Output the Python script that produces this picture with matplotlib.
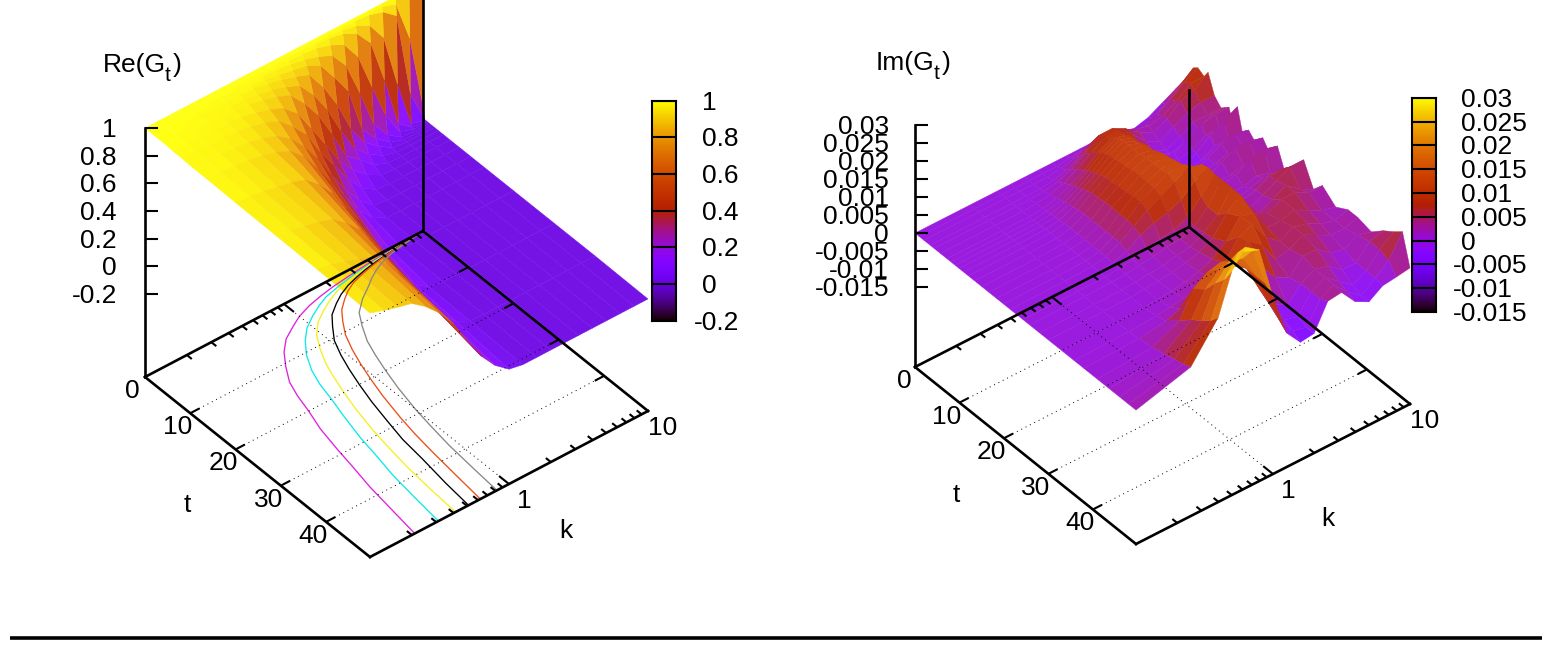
import numpy as np
import matplotlib
matplotlib.use("Agg")
import matplotlib.pyplot as plt
from matplotlib.colors import ListedColormap
from matplotlib.lines import Line2D
from mpl_toolkits.mplot3d import proj3d

plt.rcParams['font.family'] = ['Liberation Sans', 'DejaVu Sans']

W, H = 1564, 650
FONT = 19

# log10(k) grid and t grid of the real part
re_logk = [-1.0, -0.9, -0.8, -0.7, -0.6, -0.5, -0.4, -0.3, -0.2, -0.1, 0.0,
           0.1, 0.2, 0.3, 0.4, 0.5, 0.6, 0.7, 0.8, 0.9, 1.0]
re_t = [0, 0.15, 0.3, 0.5, 0.7, 1, 1.4, 1.9, 2.5, 3.4, 4.5, 6, 8, 10.5, 13.5, 20, 29, 38, 49.7]
re_gt = [
    [1, 1, 1, 1, 1, 1, 1, 1, 1, 1, 1, 1, 1, 1, 1, 1, 1, 1, 1, 1, 1],
    [1, 1, 1, 1, 1, 1, 1, 1, 1, 1, 1, 1, 1, 1, 1, 1, .995, .985, .95, .65, .08],
    [1, 1, 1, 1, 1, 1, 1, 1, 1, 1, 1, 1, 1, 1, .995, .99, .98, .95, .87, .25, .02],
    [1, 1, 1, 1, 1, 1, 1, 1, 1, 1, 1, 1, .995, .99, .98, .96, .91, .77, .38, .04, .015],
    [1, 1, 1, 1, 1, 1, 1, 1, 1, 1, 1, .995, .99, .98, .96, .91, .79, .47, .1, .02, .015],
    [1, 1, 1, 1, 1, 1, 1, 1, .995, .99, .985, .98, .97, .94, .89, .75, .48, .22, .05, .015, .015],
    [1, 1, 1, 1, 1, .995, .99, .99, .985, .98, .97, .95, .92, .875, .75, .5, .22, .09, .02, .015, .015],
    [1, 1, 1, 1, .995, .99, .985, .98, .975, .96, .94, .92, .87, .73, .58, .25, .13, .05, .015, .015, .015],
    [1, 1, 1, .995, .99, .99, .985, .975, .96, .94, .91, .87, .73, .55, .32, .17, .09, .025, .015, .015, .015],
    [1, .995, .995, .99, .985, .98, .975, .96, .94, .91, .87, .75, .59, .38, .2, .11, .045, .015, .015, .015, .015],
    [1, .995, .995, .99, .985, .98, .97, .95, .92, .88, .77, .63, .44, .23, .15, .06, .02, .015, .015, .015, .015],
    [.995, .995, .99, .985, .98, .97, .95, .92, .88, .79, .63, .46, .29, .17, .08, .025, .015, .015, .015, .015, .015],
    [.995, .99, .985, .98, .97, .955, .93, .89, .80, .69, .51, .36, .21, .09, .025, .015, .015, .015, .015, .015, .015],
    [.99, .985, .98, .97, .96, .935, .90, .83, .72, .58, .41, .25, .12, .03, .015, .015, .015, .015, .015, .015, .015],
    [.99, .985, .975, .96, .945, .915, .87, .78, .64, .49, .33, .18, .07, .02, .015, .015, .015, .015, .015, .015, .015],
    [.985, .975, .96, .94, .92, .885, .80, .68, .52, .37, .20, .08, .02, .015, .015, .015, .015, .015, .015, .015, .015],
    [.98, .965, .945, .92, .89, .81, .71, .55, .40, .23, .10, .03, .015, .015, .015, .015, .015, .015, .015, .015, .015],
    [.975, .955, .925, .89, .85, .75, .62, .48, .32, .17, .07, .02, .015, .015, .015, .015, .015, .015, .015, .015, .015],
    [.964, .93, .9, .875, .80, .70, .57, .39, .23, .11, .03, .01, .01, .01, .01, .01, .01, .01, .01, .01, .01],
]

# contours of Re(G_t) on the base plane, log10(k) against t
cont_t = [.05, .3, .7, 1, 1.4, 1.9, 2.5, 3.4, 4.5, 6, 8, 10.5, 13.5, 16.5, 20, 24, 29, 33, 38, 44, 49.7]
cont_magenta = [.96, .80, .56, .44, .31, .20, .10, 0, -.08, -.18, -.26, -.33, -.40, -.44, -.474, -.52, -.558, -.584, -.62, -.65, -.678]
cont_cyan = [.97, .84, .64, .53, .42, .32, .22, .14, .06, -.03, -.108, -.18, -.24, -.28, -.31, -.35, -.394, -.42, -.456, -.484, -.508]
cont_yellow = [.98, .86, .68, .58, .48, .39, .30, .22, .14, .05, -.026, -.084, -.14, -.18, -.22, -.26, -.30, -.324, -.35, -.37, -.384]
cont_black = [.98, .88, .72, .63, .54, .46, .38, .30, .23, .15, .089, .02, -.03, -.07, -.11, -.15, -.19, -.22, -.24, -.27, -.291]
cont_orange = [.98, .90, .74, .66, .58, .50, .42, .35, .29, .22, .162, .10, .05, .01, -.03, -.07, -.11, -.136, -.16, -.184, -.206]
cont_gray = [.99, .92, .80, .74, .68, .63, .58, .52, .46, .37, .28, .22, .16, .12, .08, .04, 0, -.024, -.05, -.07, -.087]
cont_lines = [cont_magenta, cont_cyan, cont_yellow, cont_black, cont_orange, cont_gray]
cont_colors = ['#e020e0', '#10e8e8', '#f4f020', '#000000', '#e8501a', '#888888']

# log10(k) grid and t grid of the imaginary part, values in units of 0.001
im_logk = [-1.0, -0.6, -0.4, -0.3, -0.2, -0.1, 0.0, 0.1, 0.2, 0.3, 0.4, 0.5, 0.6, 0.7, 0.8, 0.9, 1.0]
im_t = [0, 1, 2, 3.4, 4.3, 5.7, 7.2, 8.1, 9, 9.9, 10.9, 12, 13.4, 15, 16.6, 18.3, 19.9, 21.4,
        22.9, 24.3, 25.8, 28, 30, 33, 35.8, 38, 41, 43.7, 46, 48, 49.7]
im_gt = [
    [0, 0, 0, 0, 0, 0, 0, 0, 0, 0, 0, -1, -2, -1, 1, 3, 5],
    [0, 0, 0, 0, 0, 0, 0, .5, 1, 1, 1, 0, -1, 0, 2, 5, 8],
    [0, 0, 0, 0, 0, 0, .5, 1.5, 3, 3, 3, 1, 1, 2, 4, 7, 9],
    [0, 0, 0, 0, 0, .5, 1.5, 3.5, 6, 6, 5, 3, 2, 3, 5, 8, 8],
    [0, 0, 0, 0, .3, 1, 2.5, 5, 8, 8, 6, 3, 1, 3, 6, 7, 10],
    [0, 0, 0, .2, .8, 2, 4, 6.5, 9, 9, 6, 2, 0, 2, 4, 5, 5],
    [0, 0, 0, .4, 1.2, 3, 5, 8, 10, 9, 5, 1, -1, 1, 3, 3, 3],
    [0, 0, 0, .5, 1.5, 3.5, 6, 9, 11, 10, 5, 1, -1, 0, 2, 4, 4],
    [0, 0, .1, .6, 2, 4, 6.5, 9.5, 11.5, 10, 5, 1, 0, 2, 4, 5, 5],
    [0, 0, .1, .7, 2.2, 4.5, 7, 10, 12, 10, 5, 1, -1, 0, 2, 2, 1],
    [0, 0, .2, .8, 2.5, 5, 7.5, 10, 12, 10.5, 5, 0, -2, 0, 3, 5, 7],
    [0, 0, .2, .9, 2.8, 5.5, 8, 10.5, 12, 11, 5, 0, -2, -1, 1, 1, 1],
    [0, 0, .2, 1, 3, 5.5, 8, 10.5, 12, 11, 6, 1, -1, 1, 3, 4, 3],
    [0, 0, .3, 1, 3, 6, 8.5, 11, 12.5, 12, 7, 2, 0, 1, 2, 2, 1],
    [0, .1, .3, 1, 3, 6, 8.5, 11, 12.5, 12.5, 8, 3, 1, 3, 5, 5, 4],
    [0, .1, .3, 1, 3, 6, 9, 11, 12.5, 13, 9, 4, 1, 1, 2, 1, 1],
    [0, .1, .3, 1, 3, 6, 9, 11, 13, 13.5, 11, 5, 2, 3, 5, 6, 5],
    [0, .1, .3, 1, 3, 5.5, 8, 10, 12, 14, 13, 6, 1, 1, 2, 1, 0],
    [0, .1, .2, .8, 2, 4.5, 6, 7, 8.5, 12, 13.5, 7, 1, 2, 3, 3, 2],
    [0, .1, .2, .6, 1.2, 2.2, 3, 3.5, 5, 9, 13, 8, 2, 3, 5, 5, 4],
    [0, .1, .2, .5, 1, 1.5, 2.2, 2.5, 4, 7.5, 13, 8, 1, 3, 5, 7, 7],
    [0, .1, .2, .5, .8, 1.2, 2, 2.5, 4.5, 7.5, 13, 7, 2, 4, 6, 3, 1],
    [0, .1, .2, .5, .8, 1.2, 2, 3, 5, 10, 13, 6, 4, 6, 6, 4, 4],
    [0, .1, .3, .6, 1, 1.5, 2.5, 4, 7, 12, 11, 5, 5, 6, 4, 2, 1],
    [0, .3, .8, 1.2, 1.8, 2.5, 3.5, 6, 11, 12.5, 7, 4, 6, 5, 3, 2, 3],
    [0, .5, 1.5, 3, 5, 6, 6, 8, 12, 9, 3, 4, 6, 4, 2, 2, 3],
    [0, 1, 4.5, 11.5, 14, 15, 12, 10, 8, 3, 1, 5, 5, 2, 1, 3, 2],
    [0, 1.9, 7.5, 14, 17.5, 18, 14, 6, 0, -2, 2, 4, 3, 0, 0, 4, 5],
    [0, 2.7, 9.5, 18, 22, 21, 14, 4, -2, -3, 2, 4, 1, -2, 0, 4, 7],
    [0, 3.3, 11.5, 21, 26.5, 25, 14, 2, -3, -4, 2, 4, 0, -3, 0, 3, 9],
    [0, 4.2, 14, 25, 29.7, 27, 12, 0, -4.5, -4, 3, 3.5, -1, -3, -.5, 0, .6],
]

# axis ticks
t_ticks = [10, 20, 30, 40]
k_major = [1]
k_minor = [.2, .3, .4, .5, .6, .7, .8, .9, 2, 3, 4, 5, 6, 7, 8, 9]
re_zticks = [-0.2, 0, 0.2, 0.4, 0.6, 0.8, 1]
re_zlabels = ['-0.2', '0', '0.2', '0.4', '0.6', '0.8', '1']
im_zticks = [-0.015, -0.01, -0.005, 0, 0.005, 0.01, 0.015, 0.02, 0.025, 0.03]
im_zlabels = ['-0.015', '-0.01', '-0.005', '0', '0.005', '0.01', '0.015', '0.02', '0.025', '0.03']

TMAX = 49.7

# gnuplot's default pm3d palette (rgbformulae 7,5,15)
x = np.linspace(0, 1, 256)
pal = np.column_stack([np.sqrt(x), x**3, np.clip(np.sin(2 * np.pi * x), 0, 1)])
palette = ListedColormap(pal)

fig = plt.figure(figsize=(W / 100, H / 100), dpi=100)


def put_text(px, py, s, ha='left', size=FONT):
    # px, py are image pixels, py is the baseline
    fig.text(px / W, 1 - py / H, s, ha=ha, va='baseline', fontsize=size, color='black')


def put_line(xs, ys, lw=1.9):
    fig.add_artist(Line2D([a / W for a in xs], [1 - b / H for b in ys], color='black',
                          lw=lw, solid_capstyle='butt', zorder=5))


def make_axes(corner, kvec, tvec, zscale, zlim):
    # oblique view: kvec/tvec are the screen vectors of the full k and t axes
    rk = -kvec[1] / kvec[0]
    rt = tvec[1] / tvec[0]
    sin_el = np.sqrt(rk * rt)
    el = np.arcsin(sin_el)
    az = np.arctan(rt / sin_el)
    ax = fig.add_subplot(projection='3d', proj_type='ortho')
    ax.set_axis_off()
    ax.computed_zorder = False
    ax.patch.set_alpha(0)
    ax.set_xlim(-1, 1)
    ax.set_ylim(TMAX, 0)
    ax.set_zlim(*zlim)
    ax.view_init(elev=np.degrees(el), azim=-180 + np.degrees(az))
    ax.set_box_aspect((kvec[0] / np.sin(az), tvec[0] / np.cos(az),
                       zscale * (zlim[1] - zlim[0]) / np.cos(el)))
    # place the axes so that the base corner and axis length land where wanted
    M = ax.get_proj()
    x0, y0, _ = proj3d.proj_transform(-1, 0, zlim[0], M)
    x1, y1, _ = proj3d.proj_transform(1, 0, zlim[0], M)
    s = kvec[0] / (x1 - x0)
    vl = ax.viewLim
    side = vl.width * s
    left = corner[0] - (x0 - vl.x0) * s
    bottom = (H - corner[1]) - (y0 - vl.y0) * s
    ax.set_position([left / W, bottom / H, side / W, side / H])
    ax.apply_aspect()
    return ax


def to_px(ax, logk, t, z):
    tx, ty, _ = proj3d.proj_transform(logk, t, z, ax.get_proj())
    px, py = ax.transData.transform((tx, ty))
    return px, H - py


def draw_surface(ax, logk, t, z, vmin, vmax):
    X, Y = np.meshgrid(logk, t)
    Z = np.array(z, dtype=float)
    mid = (Z[:-1, :-1] + Z[1:, :-1] + Z[:-1, 1:] + Z[1:, 1:]) / 4
    rgba = palette((mid - vmin) / (vmax - vmin))
    rgba[..., :3] = rgba[..., :3] * 0.93 + 0.07
    ax.plot_surface(X, Y, Z, facecolors=rgba, rstride=1, cstride=1, shade=False,
                    linewidth=0.3, antialiased=True, zorder=1)


def draw_frame(ax, zbase, ztop, zback, zticks, zlabels, zero_dx, zlab_dx):
    line = dict(color='black', lw=1.9, zorder=4, solid_capstyle='projecting')
    # base rectangle
    ax.plot([-1, 1], [0, 0], [zbase, zbase], **line)
    ax.plot([-1, 1], [TMAX, TMAX], [zbase, zbase], **line)
    ax.plot([-1, -1], [0, TMAX], [zbase, zbase], **line)
    ax.plot([1, 1], [0, TMAX], [zbase, zbase], **line)
    # vertical axes
    ax.plot([-1, -1], [0, 0], [zbase, ztop], **line)
    ax.plot([1, 1], [0, 0], [zbase, zback], **line)

    grid = dict(color='black', lw=0.7, ls=(0, (1, 4)), zorder=3)
    tick = dict(color='black', lw=1.5, zorder=4, solid_capstyle='butt')
    for tv in t_ticks:
        ax.plot([-1, 1], [tv, tv], [zbase, zbase], **grid)
        ax.plot([-1, -0.933], [tv, tv], [zbase, zbase], **tick)
        ax.plot([1, 0.933], [tv, tv], [zbase, zbase], **tick)
        px, py = to_px(ax, -1, tv, zbase)
        put_text(px + 2, py + 21, str(tv), ha='right')
    for kv in k_major:
        lk = np.log10(kv)
        ax.plot([lk, lk], [0, TMAX], [zbase, zbase], **grid)
    for kv, ln in [(v, 2.2) for v in k_major] + [(v, 1.1) for v in k_minor]:
        lk = np.log10(kv)
        ax.plot([lk, lk], [0, ln], [zbase, zbase], **tick)
        ax.plot([lk, lk], [TMAX, TMAX - ln], [zbase, zbase], **tick)
    px, py = to_px(ax, -1, 0, zbase)
    put_text(px + zero_dx, py + 21, '0', ha='right')
    px, py = to_px(ax, 0, TMAX, zbase)
    put_text(px + 15, py + 24, '1', ha='center')
    px, py = to_px(ax, 1, TMAX, zbase)
    put_text(px + 15, py + 24, '10', ha='center')
    # z ticks run flat on the page
    for zv, lab in zip(zticks, zlabels):
        px, py = to_px(ax, -1, 0, zv)
        put_line([px, px + 13], [py, py], lw=1.5)
        put_text(px + zlab_dx, py + 9, lab, ha='right')


def draw_colorbar(rect_px, vmin, vmax, ticks, labels, lab_x):
    x0, y0, x1, y1 = rect_px
    cax = fig.add_axes([x0 / W, 1 - y1 / H, (x1 - x0) / W, (y1 - y0) / H])
    cax.imshow(np.linspace(1, 0, 256)[:, None], cmap=palette, aspect='auto', vmin=0, vmax=1,
               extent=[0, 1, vmin, vmax])
    cax.set_xticks([])
    cax.set_yticks([])
    for sp in cax.spines.values():
        sp.set_linewidth(1.5)
    cax.hlines(ticks, 0, 1, color='black', lw=1.5)
    for tv, lab in zip(ticks, labels):
        py = y1 - (tv - vmin) / (vmax - vmin) * (y1 - y0)
        shift = 8.5 if lab.startswith('-') else 0
        put_text(lab_x - shift, py + 9, lab)


# left panel, Re(G_t)
re_zlim = (-0.8, 1.0)
ax1 = make_axes((145, 377), (278, -146), (225, 180), 138.3, re_zlim)
draw_surface(ax1, re_logk, re_t, re_gt, -0.2, 1.0)
for vals, col in zip(cont_lines, cont_colors):
    ax1.plot(vals, cont_t, np.full(len(cont_t), re_zlim[0]), color=col, lw=0.95, zorder=3)
draw_frame(ax1, re_zlim[0], 1.0, 1.1, re_zticks, re_zlabels, -5, -28)
draw_colorbar((652, 100.7, 676, 320.7), -0.2, 1.0, re_zticks, re_zlabels, 702)
put_text(103, 72, 'Re(G')
put_text(165, 81, 't', size=15)
put_text(173, 72, ')')
put_text(187, 512, 't', ha='center')
put_text(566, 538, 'k', ha='center')

# right panel, Im(G_t)
im_zlim = (-0.0372, 0.03)
ax2 = make_axes((915, 367), (274, -140), (221, 177), 3600, im_zlim)
draw_surface(ax2, im_logk, im_t, np.array(im_gt) * 1e-3, -0.015, 0.03)
draw_frame(ax2, im_zlim[0], 0.03, 0.0009, im_zticks, im_zlabels, -3, -26)
draw_colorbar((1412, 97.7, 1436, 312), -0.015, 0.03, im_zticks, im_zlabels, 1461)
put_text(876, 70, 'Im(G')
put_text(934, 79, 't', size=15)
put_text(942, 70, ')')
put_text(956, 502, 't', ha='center')
put_text(1328, 526, 'k', ha='center')

# rule below the plots
put_line([10, 1542], [638, 638], lw=2.6)

fig.savefig('out.png', dpi=100)
